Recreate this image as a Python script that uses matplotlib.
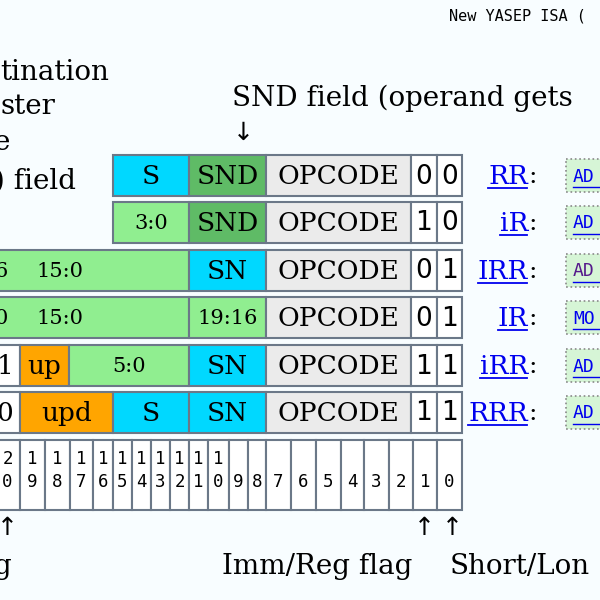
import matplotlib
matplotlib.use("Agg")
import matplotlib.pyplot as plt
from matplotlib.patches import Rectangle

# field rows: (label, left, right, color)
row_tops = [155, 202, 250, 297, 345, 392]
row_h = 41
rows = [
    [("S", 113, 189, "cyan"), ("SND", 189, 266, "dkgreen")],
    [("3:0", 113, 189, "green"), ("SND", 189, 266, "dkgreen")],
    [("6   15:0", -40, 189, "green"), ("SN", 189, 266, "cyan")],
    [("0   15:0", -40, 189, "green"), ("19:16", 189, 266, "green")],
    [("1", -40, 20, "white"), ("up", 20, 69, "orange"), ("5:0", 69, 189, "green"), ("SN", 189, 266, "cyan")],
    [("0", -40, 20, "white"), ("upd", 20, 113, "orange"), ("S", 113, 189, "cyan"), ("SN", 189, 266, "cyan")],
]
bit1 = ["0", "1", "0", "0", "1", "1"]
bit0 = ["0", "0", "1", "1", "1", "1"]
forms = ["RR", "iR", "IRR", "IR", "iRR", "RRR"]
examples = ["AD", "AD", "AD", "MO", "AD", "AD"]
bit_edges = [-5, 20, 45, 70, 93, 113, 132, 151, 170, 189, 208, 229, 248, 266, 291, 316, 341, 364, 389, 413, 437, 462]
bit_labels = ["2\n0", "1\n9", "1\n8", "1\n7", "1\n6", "1\n5", "1\n4", "1\n3", "1\n2", "1\n1", "1\n0",
              "9", "8", "7", "6", "5", "4", "3", "2", "1", "0"]

colors = {"cyan": "#00d8ff", "dkgreen": "#5fbb66", "green": "#90ee90", "orange": "#ffa500",
          "white": "#ffffff", "gray": "#ebebeb"}
edge = "#6b7888"
bg = "#f8fdff"
serif = "DejaVu Serif"

fig = plt.figure(figsize=(6, 6), dpi=100, facecolor=bg)
ax = fig.add_axes([0, 0, 1, 1])
ax.set_xlim(0, 600)
ax.set_ylim(600, 0)
ax.axis("off")
ax.set_facecolor(bg)
renderer = fig.canvas.get_renderer()

def box(x0, x1, y0, h, col, txt, fs=19, family=serif, tx=None):
    ax.add_patch(Rectangle((x0, y0), x1 - x0, h, facecolor=colors[col], edgecolor=edge, lw=1.5))
    ax.text((x0 + x1) / 2 if tx is None else tx, y0 + h / 2 + 1, txt, ha="center", va="center",
            fontsize=fs, family=family)

for i, (top, fields) in enumerate(zip(row_tops, rows)):
    for lab, a, b, c in fields:
        fs = 15 if (":" in lab) else 19
        if lab.endswith("15:0"):
            ax.add_patch(Rectangle((a, top), b - a, row_h, facecolor=colors[c], edgecolor=edge, lw=1.5))
            ax.text(1, top + row_h / 2 + 1, lab[0], ha="center", va="center", fontsize=15, family=serif)
            ax.text(60, top + row_h / 2 + 1, "15:0", ha="center", va="center", fontsize=15, family=serif)
        elif c == "white":
            box(a, b, top, row_h, c, lab, 19, tx=5)
        else:
            box(a, b, top, row_h, c, lab, fs)
    box(266, 411, top, row_h, "gray", "OPCODE", 19)
    box(411, 437, top, row_h, "white", bit1[i], 19, "DejaVu Sans")
    box(437, 462, top, row_h, "white", bit0[i], 19, "DejaVu Sans")
    ax.text(528, top + row_h / 2 + 1, ":", ha="left", va="center", fontsize=18, family=serif)
    t = ax.text(528, top + row_h / 2 + 1, forms[i], ha="right", va="center", fontsize=19, family=serif,
                color="#0000ee")
    bb = t.get_window_extent(renderer)
    x0 = ax.transData.inverted().transform((bb.x0, 0))[0]
    ax.plot([x0, 527], [top + 33, top + 33], color="#0000ee", lw=1.3)
    ax.add_patch(Rectangle((566, top + 4), 44, row_h - 8, facecolor="#d6f5d6", edgecolor="#888888",
                           lw=1.2, ls=":"))
    ax.text(573, top + row_h / 2 + 1, examples[i], ha="left", va="center", fontsize=13,
            family="DejaVu Sans Mono", color="#551a8b" if i == 2 else "#0000ee")
    ax.plot([573, 600], [top + 32, top + 32], color="#0000ee", lw=1)

for j, lab in enumerate(bit_labels):
    a, b = bit_edges[j], bit_edges[j + 1]
    ax.add_patch(Rectangle((a, 440), b - a, 70, facecolor="white", edgecolor=edge, lw=1.5))
    ax.text((a + b) / 2, 491, lab, ha="center", va="bottom", fontsize=12.5, family="DejaVu Sans Mono",
            linespacing=1.35)

ax.text(586, 16, "New YASEP ISA (", ha="right", va="center", fontsize=11, family="DejaVu Sans Mono")
ax.text(0, 73, "tination", ha="left", va="center", fontsize=20, family=serif)
ax.text(0, 107, "ster", ha="left", va="center", fontsize=20, family=serif)
ax.text(-6, 142, "e", ha="left", va="center", fontsize=20, family=serif)
ax.text(-6, 181, ") field", ha="left", va="center", fontsize=20, family=serif)
ax.text(232, 98, "SND field (operand gets", ha="left", va="center", fontsize=20, family=serif)
ax.text(243, 133, "↓", ha="center", va="center", fontsize=18, family="DejaVu Sans")
for xa in [7, 424, 452]:
    ax.text(xa, 528, "↑", ha="center", va="center", fontsize=18, family="DejaVu Sans")
ax.text(-6, 567, "g", ha="left", va="center", fontsize=20, family=serif)
ax.text(222, 567, "Imm/Reg flag", ha="left", va="center", fontsize=20, family=serif)
ax.text(450, 567, "Short/Lon", ha="left", va="center", fontsize=20, family=serif)

fig.savefig("out.png", dpi=100, facecolor=bg)
